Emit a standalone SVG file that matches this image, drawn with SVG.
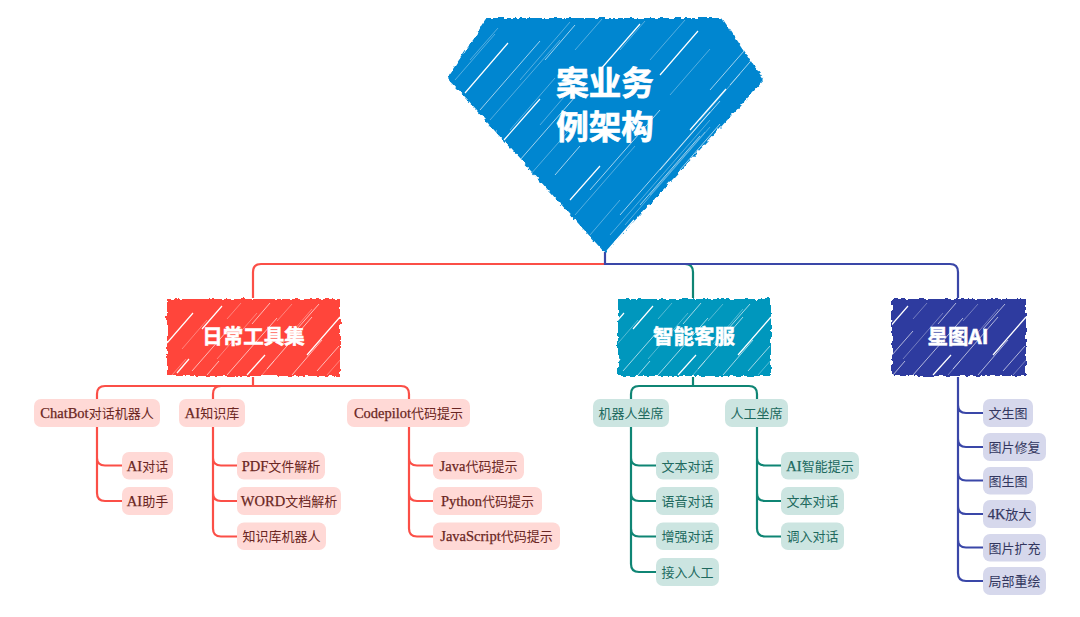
<svg xmlns="http://www.w3.org/2000/svg" width="1080" height="617" viewBox="0 0 1080 617">
<style>
text{font-family:"Noto Sans CJK SC","Noto Sans",sans-serif;text-anchor:middle}
.t{font-weight:700;fill:#fff;stroke:#fff}
.r{font-size:32.500px;stroke-width:.7px}
.b{font-size:20.500px;stroke-width:.5px}
.n{font-size:13px}
.l{font-family:"Liberation Serif",serif;font-size:14.500px;stroke-width:.25px}
.xr .l{stroke:#6a2622}.xg .l{stroke:#20695e}.xn .l{stroke:#33375f}
.c{fill:none;stroke-width:2.200}
.cr{stroke:#fb4f47}.cg{stroke:#0f8574}.cn{stroke:#3a47a8}
.fr{fill:#ffd9d6}.fg{fill:#cce5e1}.fn{fill:#d6d8ec}
.xr{fill:#6a2622}.xg{fill:#20695e}.xn{fill:#33375f}
.h{fill:none;stroke:#fff}
.h1{stroke-width:1.200}.h2{stroke-width:.7;opacity:.9}.h3{stroke-width:.45;opacity:.75}
</style>
<defs>
<filter id="rough" x="-5%" y="-5%" width="110%" height="110%">
<feTurbulence type="fractalNoise" baseFrequency="0.2" numOctaves="2" seed="4" result="n"/>
<feDisplacementMap in="SourceGraphic" in2="n" scale="5" xChannelSelector="R" yChannelSelector="G"/>
</filter>
<pattern id="hb" width="200" height="80" patternUnits="userSpaceOnUse">
<path class="h h1" d="M0 44l26-30M10 74l12-14M140 56l33-38M80 76l18-20M35 30l20-23"/>
<path class="h h2" d="M25 72l35-40M60 76l50-57M100 70l45-52M125 76l30-35M85 25l18-21M130 30l22-25M40 76l12-14M150 72l22-25"/>
<path class="h h3" d="M15 50l25-29M50 60l40-46M115 45l30-35M5 76l14-16M95 76l12-14M160 76l14-16M110 22l15-17M60 20l14-16"/>
</pattern>
<pattern id="hb1" href="#hb" patternTransform="translate(167 299)"/>
<pattern id="hb2" href="#hb" patternTransform="translate(598 299)"/>
<pattern id="hb3" href="#hb" patternTransform="translate(853 299)"/>
</defs>

<g id="connectors">
<path class="c cr" d="M605 264H261Q253 264 253 272V298"/>
<path class="c cg" d="M605 264H685Q693 264 693 272V298"/>
<path class="c cn" d="M605 252V264H950Q958 264 958 272V298"/>
<path class="c cr" d="M253 377V386H105Q97 386 97 394V399M253 386H221Q213 386 213 394V399M253 386H401Q409 386 409 394V399"/>
<path class="c cr" d="M97 427V458Q97 465.500 105 465.500H122M97 458V493Q97 501 105 501H122"/>
<path class="c cr" d="M213 427V458Q213 465.500 221 465.500H237M213 458V493Q213 501 221 501H237M213 493V528.500Q213 536.500 221 536.500H237"/>
<path class="c cr" d="M409 427V458Q409 465.500 417 465.500H433M409 458V493Q409 501 417 501H433M409 493V528.500Q409 536.500 417 536.500H433"/>
<path class="c cg" d="M693 377V386H639Q631 386 631 394V399M693 386H749Q757 386 757 394V399"/>
<path class="c cg" d="M631 427V458Q631 465.500 639 465.500H656M631 458V493Q631 501 639 501H656M631 493V528.500Q631 536.500 639 536.500H656M631 528V564Q631 572 639 572H656"/>
<path class="c cg" d="M757 427V458Q757 465.500 765 465.500H781M757 458V493Q757 501 765 501H781M757 493V528.500Q757 536.500 765 536.500H781"/>
<path class="c cn" d="M958 377V405Q958 413 966 413H983M958 405V439Q958 447 966 447H983M958 439V472.500Q958 480.500 966 480.500H983M958 472V506Q958 514 966 514H983M958 506V539.500Q958 547.500 966 547.500H983M958 539V573Q958 581 966 581H983"/>
</g>

<g id="root">
<polygon points="487,18 722,18 764,80 605,253 447,78" fill="#0486d0" filter="url(#rough)"/>
<path class="h h1" d="M465 93l43-50M504 140l36-41M600 70l40-46M660 75l38-44M607 251l27-31M570 200l30-34M690 130l36-41"/>
<path class="h h2" d="M480 110l60-69M520 160l55-63M555 175l25-29M545 60l30-35M590 190l70-80M620 215l90-103M640 205l60-69M680 170l40-46M710 90l34-39M730 85l26-30M660 170l60-69"/>
<path class="h h3" d="M455 80l40-46M470 60l28-32M490 120l70-80M510 130l45-52M530 175l50-57M575 215l60-69M610 235l100-115M625 225l85-98M650 195l55-63M700 120l40-46M650 60l35-40M620 50l25-29M575 50l27-31M520 80l50-58M540 125l30-35M670 95l40-46M590 235l30-35"/>
<text class="t r" x="605" y="95">案业务</text>
<text class="t r" x="605" y="139">例架构</text>
</g>

<g id="branch-daily">
<rect x="167" y="299" width="173" height="77" fill="#ff453a" filter="url(#rough)"/>
<rect x="167" y="299" width="173" height="77" fill="url(#hb1)"/>
<text class="t b" x="253.500" y="344">日常工具集</text>
</g>
<g id="branch-service">
<rect x="618" y="299" width="153" height="77" fill="#0097bd" filter="url(#rough)"/>
<rect x="618" y="299" width="153" height="77" fill="url(#hb2)"/>
<text class="t b" x="694" y="344">智能客服</text>
</g>
<g id="branch-star">
<rect x="892" y="299" width="134" height="77" fill="#2f3b9f" filter="url(#rough)"/>
<rect x="892" y="299" width="134" height="77" fill="url(#hb3)"/>
<text class="t b" x="958" y="344">星图AI</text>
</g>

<g id="n-chatbot"><rect class="fr" x="34" y="399" width="126" height="28" rx="7"/><text class="n xr" x="97" y="418"><tspan class="l">ChatBot</tspan>对话机器人</text></g>
<g id="n-kb"><rect class="fr" x="179" y="399" width="66" height="28" rx="7"/><text class="n xr" x="212" y="418"><tspan class="l">AI</tspan>知识库</text></g>
<g id="n-codepilot"><rect class="fr" x="347" y="399" width="123" height="28" rx="7"/><text class="n xr" x="408.500" y="418"><tspan class="l">Codepilot</tspan>代码提示</text></g>
<g id="n-aichat"><rect class="fr" x="122" y="452" width="51" height="27.500" rx="7"/><text class="n xr" x="147.500" y="470.500"><tspan class="l">AI</tspan>对话</text></g>
<g id="n-aihelp"><rect class="fr" x="122" y="487" width="51" height="28" rx="7"/><text class="n xr" x="147.500" y="506"><tspan class="l">AI</tspan>助手</text></g>
<g id="n-pdf"><rect class="fr" x="237" y="452" width="88" height="27.500" rx="7"/><text class="n xr" x="281" y="470.500"><tspan class="l">PDF</tspan>文件解析</text></g>
<g id="n-word"><rect class="fr" x="237" y="487" width="104" height="28" rx="7"/><text class="n xr" x="289" y="506"><tspan class="l">WORD</tspan>文档解析</text></g>
<g id="n-kbbot"><rect class="fr" x="237" y="522.500" width="89" height="27.500" rx="7"/><text class="n xr" x="281.500" y="541">知识库机器人</text></g>
<g id="n-java"><rect class="fr" x="433" y="452" width="91" height="27.500" rx="7"/><text class="n xr" x="478.500" y="470.500"><tspan class="l">Java</tspan>代码提示</text></g>
<g id="n-python"><rect class="fr" x="433" y="487" width="109" height="28" rx="7"/><text class="n xr" x="487.500" y="506"><tspan class="l">Python</tspan>代码提示</text></g>
<g id="n-js"><rect class="fr" x="433" y="522.500" width="127" height="27.500" rx="7"/><text class="n xr" x="496.500" y="541"><tspan class="l">JavaScript</tspan>代码提示</text></g>

<g id="n-robot"><rect class="fg" x="593" y="399" width="76" height="28" rx="7"/><text class="n xg" x="631" y="418">机器人坐席</text></g>
<g id="n-human"><rect class="fg" x="725" y="399" width="63" height="28" rx="7"/><text class="n xg" x="756.500" y="418">人工坐席</text></g>
<g id="n-text1"><rect class="fg" x="656" y="452" width="63" height="27.500" rx="7"/><text class="n xg" x="687.500" y="470.500">文本对话</text></g>
<g id="n-voice"><rect class="fg" x="656" y="487" width="63" height="28" rx="7"/><text class="n xg" x="687.500" y="506">语音对话</text></g>
<g id="n-enhance"><rect class="fg" x="656" y="522.500" width="63" height="27.500" rx="7"/><text class="n xg" x="687.500" y="541">增强对话</text></g>
<g id="n-transfer"><rect class="fg" x="656" y="558" width="63" height="28" rx="7"/><text class="n xg" x="687.500" y="577">接入人工</text></g>
<g id="n-aitip"><rect class="fg" x="781" y="452" width="78" height="27.500" rx="7"/><text class="n xg" x="820" y="470.500"><tspan class="l">AI</tspan>智能提示</text></g>
<g id="n-text2"><rect class="fg" x="781" y="487" width="63" height="28" rx="7"/><text class="n xg" x="812.500" y="506">文本对话</text></g>
<g id="n-callin"><rect class="fg" x="781" y="522.500" width="63" height="27.500" rx="7"/><text class="n xg" x="812.500" y="541">调入对话</text></g>

<g id="n-t2i"><rect class="fn" x="983" y="399" width="50" height="28" rx="7"/><text class="n xn" x="1008" y="418">文生图</text></g>
<g id="n-repair"><rect class="fn" x="983" y="433" width="63" height="28" rx="7"/><text class="n xn" x="1014.500" y="452">图片修复</text></g>
<g id="n-i2i"><rect class="fn" x="983" y="467" width="50" height="27.500" rx="7"/><text class="n xn" x="1008" y="485.500">图生图</text></g>
<g id="n-4k"><rect class="fn" x="983" y="500" width="53" height="28" rx="7"/><text class="n xn" x="1009.500" y="519"><tspan class="l">4K</tspan>放大</text></g>
<g id="n-expand"><rect class="fn" x="983" y="534" width="63" height="27.500" rx="7"/><text class="n xn" x="1014.500" y="552.500">图片扩充</text></g>
<g id="n-inpaint"><rect class="fn" x="983" y="567" width="63" height="28" rx="7"/><text class="n xn" x="1014.500" y="586">局部重绘</text></g>
</svg>
